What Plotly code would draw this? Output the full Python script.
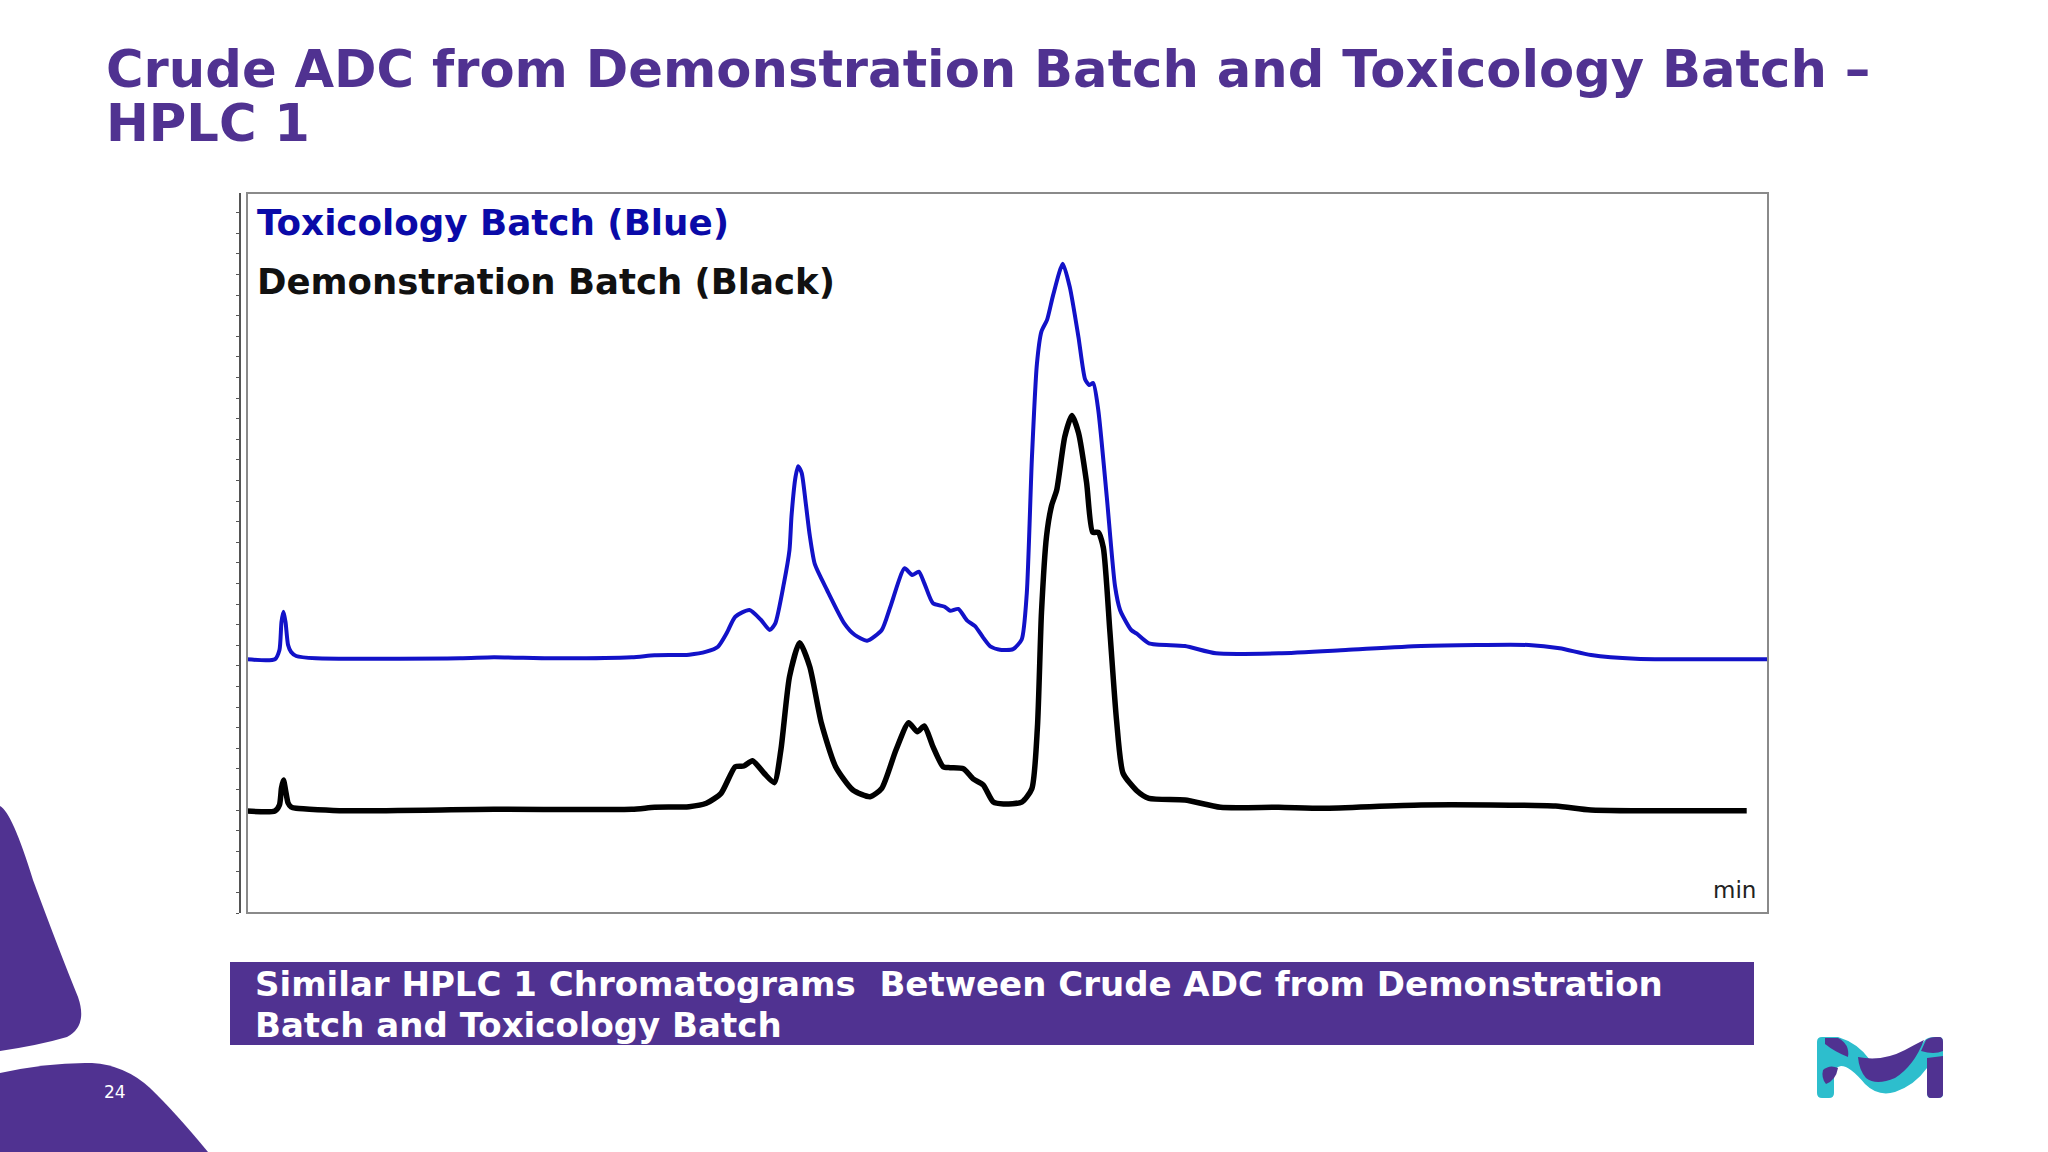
import plotly.graph_objects as go

W, H = 2048, 1152

# ---------------- data (retention time in min, detector signal in arbitrary units) -------------
blue_t = [0.00, 0.55, 0.64, 0.68, 0.72, 0.76, 0.81, 0.87, 0.97, 1.36, 4.20, 4.87, 6.01, 7.59,
          8.04, 8.72, 9.06, 9.29, 9.46, 9.63, 9.91, 10.14, 10.31, 10.42, 10.59, 10.70, 10.74,
          10.82, 10.87, 10.94, 11.02, 11.10, 11.20, 11.44, 11.78, 11.99, 12.23, 12.52, 12.69,
          12.97, 13.12, 13.25, 13.36, 13.53, 13.76, 13.87, 14.03, 14.20, 14.36, 14.52, 14.66,
          14.85, 15.11, 15.28, 15.38, 15.48, 15.58, 15.67, 15.78, 15.90, 16.09, 16.23, 16.40,
          16.53, 16.61, 16.69, 16.79, 16.96, 17.12, 17.22, 17.28, 17.44, 17.55, 17.79, 18.50,
          19.11, 20.35, 21.67, 23.16, 25.28, 25.89, 26.51, 27.39, 30.00]
blue_v = [253.7, 253.7, 263.0, 291.0, 301.3, 291.0, 268.0, 261.0, 257.0, 254.7, 254.7, 255.7,
          254.7, 255.7, 257.7, 258.3, 261.3, 266.3, 279.7, 296.3, 303.0, 293.0, 283.0, 289.7,
          329.7, 363.0, 397.1, 436.3, 446.8, 440.2, 410.2, 377.5, 348.8, 323.0, 289.7, 278.0,
          272.3, 283.0, 306.3, 344.7, 338.0, 341.3, 329.7, 309.7, 306.3, 302.2, 304.1, 292.6,
          286.9, 275.4, 266.6, 263.2, 263.9, 273.5, 319.4, 453.4, 549.0, 581.6, 593.1, 617.9,
          649.3, 625.6, 575.8, 533.7, 528.0, 529.9, 503.1, 415.1, 327.1, 303.0, 296.5, 283.0,
          279.3, 269.7, 267.0, 259.7, 259.7, 263.0, 267.0, 268.0, 264.7, 258.0, 254.3, 253.7]

black_t = [0.00, 0.55, 0.64, 0.68, 0.72, 0.76, 0.81, 0.87, 0.97, 1.93, 4.87, 7.59, 8.04, 8.72,
           9.06, 9.35, 9.63, 9.80, 9.97, 10.20, 10.40, 10.53, 10.70, 10.90, 11.10, 11.33, 11.61,
           11.95, 12.29, 12.52, 12.80, 13.05, 13.22, 13.36, 13.53, 13.73, 13.87, 14.13, 14.33,
           14.52, 14.72, 14.92, 15.28, 15.48, 15.59, 15.67, 15.77, 15.87, 15.97, 16.13, 16.27,
           16.40, 16.56, 16.68, 16.79, 16.89, 17.02, 17.15, 17.28, 17.55, 17.79, 18.50, 19.20,
           20.35, 21.23, 23.16, 25.81, 26.51, 29.58]
black_v = [102.0, 102.0, 108.0, 125.0, 133.0, 123.0, 110.0, 106.0, 104.7, 102.3, 103.7, 103.7,
           105.7, 106.3, 109.7, 119.7, 146.3, 147.0, 152.3, 139.7, 130.3, 163.0, 236.3, 270.3,
           246.3, 189.7, 146.3, 123.0, 116.3, 124.7, 163.0, 190.3, 181.3, 187.0, 166.3, 146.3,
           145.3, 144.2, 133.8, 128.1, 110.9, 109.0, 110.9, 124.3, 185.5, 300.3, 376.8, 407.5,
           422.8, 476.3, 497.4, 480.2, 430.4, 380.7, 380.7, 365.4, 281.2, 193.1, 139.6, 122.3,
           114.7, 113.0, 105.7, 105.7, 104.7, 108.0, 107.0, 103.0, 102.3]

TITLE_LINE_1 = "Crude ADC from Demonstration Batch and Toxicology Batch \u2013"
TITLE_LINE_2 = "HPLC 1"
LABEL_BLUE = "Toxicology Batch (Blue)"
LABEL_BLACK = "Demonstration Batch (Black)"
X_UNIT = "min"
BANNER_LINE_1 = "Similar HPLC 1 Chromatograms \u00a0Between Crude ADC from Demonstration"
BANNER_LINE_2 = "Batch and Toxicology Batch"
PAGE_NO = "24"

PURPLE = "#503291"
TEAL = "#2dbecd"
FONT = "DejaVu Sans"


def px(x):
    return x / W


def py(y):
    return 1 - y / H


def path(cmds):
    """cmds: list of (letter, [x1, y1, x2, y2, ...]) in page pixels -> paper path string"""
    out = []
    for letter, pts in cmds:
        if letter == "Z":
            out.append("Z")
            continue
        coords = []
        for i in range(0, len(pts), 2):
            coords.append(f"{px(pts[i]):.5f},{py(pts[i + 1]):.5f}")
        out.append(letter + " " + " ".join(coords))
    return " ".join(out)


fig = go.Figure()

fig.add_trace(go.Scatter(
    x=black_t, y=black_v, mode="lines", name=LABEL_BLACK,
    line=dict(color="#000000", width=5.5, shape="spline", smoothing=0.6),
    hoverinfo="skip", showlegend=False))
fig.add_trace(go.Scatter(
    x=blue_t, y=blue_v, mode="lines", name=LABEL_BLUE,
    line=dict(color="#1212c8", width=4, shape="spline", smoothing=0.6),
    hoverinfo="skip", showlegend=False))

shapes = []
# chart frame
shapes.append(dict(type="rect", xref="x domain", yref="y domain", x0=0, x1=1, y0=0, y1=1,
                   line=dict(color="#8a8a8a", width=2)))
# banner
shapes.append(dict(type="rect", xref="paper", yref="paper", x0=px(230), x1=px(1754),
                   y0=py(1045), y1=py(962), fillcolor=PURPLE, line=dict(width=0), layer="below"))
# bottom-left decorative blobs
shapes.append(dict(type="path", xref="paper", yref="paper", fillcolor=PURPLE, line=dict(width=0),
                   path=path([("M", [0, 806]), ("Q", [12, 812, 33, 880]), ("Q", [60, 953, 78, 997]),
                              ("Q", [88, 1026, 67, 1037]), ("Q", [40, 1045, 0, 1051]), ("Z", [])])))
shapes.append(dict(type="path", xref="paper", yref="paper", fillcolor=PURPLE, line=dict(width=0),
                   path=path([("M", [0, 1073]), ("Q", [50, 1062, 92, 1063]), ("Q", [125, 1065, 150, 1088]),
                              ("Q", [175, 1112, 208, 1152]), ("L", [0, 1152]), ("Z", [])])))
# logo (teal ribbon + purple parts)
shapes.append(dict(type="path", xref="paper", yref="paper", fillcolor=TEAL, line=dict(width=0),
                   path=path([("M", [1817, 1042]), ("Q", [1817, 1037, 1822, 1037]), ("L", [1838, 1037]),
                              ("Q", [1858, 1043, 1870, 1060]), ("Q", [1882, 1075, 1897, 1068]),
                              ("Q", [1912, 1058, 1925, 1040]), ("Q", [1928, 1037, 1935, 1037]),
                              ("L", [1939, 1037]), ("Q", [1943, 1037, 1943, 1042]), ("L", [1943, 1094]),
                              ("Q", [1943, 1098, 1938, 1098]), ("L", [1931, 1098]),
                              ("Q", [1927, 1098, 1927, 1093]), ("L", [1927, 1068]),
                              ("Q", [1915, 1085, 1895, 1092]), ("Q", [1878, 1097, 1865, 1084]),
                              ("Q", [1850, 1066, 1841, 1066]), ("Q", [1834, 1067, 1834, 1076]),
                              ("L", [1834, 1093]), ("Q", [1834, 1098, 1829, 1098]), ("L", [1822, 1098]),
                              ("Q", [1817, 1098, 1817, 1093]), ("Z", [])])))
shapes.append(dict(type="path", xref="paper", yref="paper", fillcolor=PURPLE, line=dict(width=0),
                   path=path([("M", [1825, 1038]), ("L", [1838, 1038]), ("Q", [1850, 1044, 1848, 1057]),
                              ("Q", [1835, 1052, 1825, 1044]), ("Z", [])])))
shapes.append(dict(type="path", xref="paper", yref="paper", fillcolor=PURPLE, line=dict(width=0),
                   path=path([("M", [1858, 1057]), ("Q", [1882, 1062, 1905, 1050]),
                              ("Q", [1916, 1044, 1924, 1040]), ("Q", [1914, 1066, 1895, 1078]),
                              ("Q", [1876, 1086, 1866, 1078]), ("Q", [1859, 1070, 1858, 1057]), ("Z", [])])))
shapes.append(dict(type="path", xref="paper", yref="paper", fillcolor=PURPLE, line=dict(width=0),
                   path=path([("M", [1927, 1058]), ("L", [1943, 1056]), ("L", [1943, 1094]),
                              ("Q", [1943, 1098, 1938, 1098]), ("L", [1931, 1098]),
                              ("Q", [1927, 1098, 1927, 1093]), ("Z", [])])))
shapes.append(dict(type="path", xref="paper", yref="paper", fillcolor=PURPLE, line=dict(width=0),
                   path=path([("M", [1926, 1040]), ("Q", [1930, 1037, 1936, 1037]), ("L", [1939, 1037]),
                              ("Q", [1943, 1037, 1943, 1042]), ("L", [1943, 1051]),
                              ("Q", [1934, 1055, 1921, 1051]), ("Z", [])])))
shapes.append(dict(type="path", xref="paper", yref="paper", fillcolor=PURPLE, line=dict(width=0),
                   path=path([("M", [1823, 1070]), ("Q", [1830, 1064, 1838, 1068]),
                              ("Q", [1836, 1080, 1826, 1084]), ("Q", [1821, 1078, 1823, 1070]), ("Z", [])])))

annotations = [
    dict(text=TITLE_LINE_1, x=px(104), y=py(69), xanchor="left", yanchor="middle",
         font=dict(family=FONT, size=51.2, color=PURPLE, weight="bold")),
    dict(text=TITLE_LINE_2, x=px(104), y=py(123), xanchor="left", yanchor="middle",
         font=dict(family=FONT, size=51.2, color=PURPLE, weight="bold")),
    dict(text=LABEL_BLUE, x=px(255), y=py(222), xanchor="left", yanchor="middle",
         font=dict(family=FONT, size=35.7, color="#0a0aa8", weight="bold")),
    dict(text=LABEL_BLACK, x=px(255), y=py(282), xanchor="left", yanchor="middle",
         font=dict(family=FONT, size=35.5, color="#111111", weight="bold")),
    dict(text=X_UNIT, x=px(1758), y=py(890), xanchor="right", yanchor="middle",
         font=dict(family=FONT, size=23, color="#222222")),
    dict(text=BANNER_LINE_1, x=px(253), y=py(984), xanchor="left", yanchor="middle",
         font=dict(family=FONT, size=34, color="#ffffff", weight="bold")),
    dict(text=BANNER_LINE_2, x=px(253), y=py(1025), xanchor="left", yanchor="middle",
         font=dict(family=FONT, size=34, color="#ffffff", weight="bold")),
    dict(text=PAGE_NO, x=px(115), y=py(1092), xanchor="center", yanchor="middle",
         font=dict(family=FONT, size=17, color="#ffffff")),
]
for a in annotations:
    a.update(xref="paper", yref="paper", showarrow=False)

fig.update_layout(
    width=W, height=H, autosize=False,
    margin=dict(l=0, r=0, t=0, b=0),
    paper_bgcolor="#ffffff", plot_bgcolor="#ffffff",
    showlegend=False,
    xaxis=dict(domain=[px(247), px(1768)], range=[0, 30], showgrid=False, zeroline=False,
               showticklabels=False, ticks="", showline=False, fixedrange=True),
    yaxis=dict(domain=[py(913), py(193)], range=[0, 720], anchor="free", position=px(240),
               showgrid=False, zeroline=False, showticklabels=False, showline=True,
               linecolor="#555555", linewidth=1.5, ticks="outside", ticklen=3, tickwidth=1,
               tickcolor="#555555", tick0=0, dtick=20.6, fixedrange=True),
    shapes=shapes,
    annotations=annotations,
)

fig.write_html("out.html")
